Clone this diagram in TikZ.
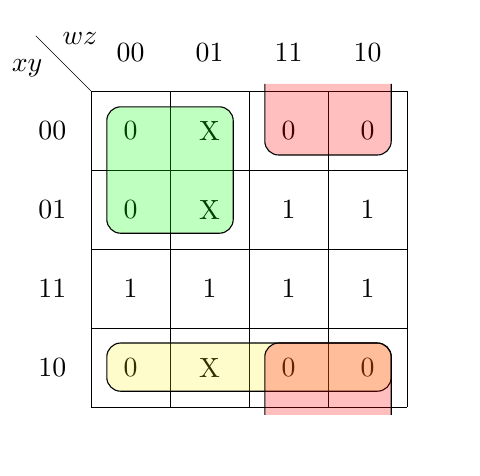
\documentclass[tikz,border=0pt]{standalone}
\usetikzlibrary{positioning}
\begin{document}
\begin{tikzpicture}[
    cell/.style={minimum size=1cm, inner sep=0pt},
    grp/.style={draw=black, thin, rounded corners=5pt, fill opacity=0.25},
  ]
  \useasboundingbox (-1.152,1.152) rectangle (4.924,-4.861);

  % map grid and corner label
  \draw[very thin] (0,0) grid (4,-4);
  \coordinate (corner) at (0,0);
  \coordinate (diag) at (-0.7,0.7);
  \draw[very thin] (corner) -- (diag);
  \node (wz) at (-0.14,0.67) {$wz$};
  \node (xy) at (-0.81,0.29) {$xy$};

  % column and row labels
  \foreach \lab [count=\i from 0] in {00,01,11,10} {
    \node[cell] (col\i) at (\i+0.5,0.49) {\lab};
    \node[cell] (row\i) at (-0.49,-\i-0.5) {\lab};
  }

  % cell values
  \foreach \a/\b/\c/\d [count=\r from 0] in {0/X/0/0, 0/X/1/1, 1/1/1/1, 0/X/0/0} {
    \node[cell] (c\r0) at (0.5,-\r-0.5) {\a};
    \node[cell] (c\r1) at (1.5,-\r-0.5) {\b};
    \node[cell] (c\r2) at (2.5,-\r-0.5) {\c};
    \node[cell] (c\r3) at (3.5,-\r-0.5) {\d};
  }

  % groups
  \filldraw[grp, fill=green] (0.2,-0.2) rectangle (1.8,-1.8);
  \filldraw[grp, fill=red] (2.2,0.09) -- (2.2,-0.81) -- (3.8,-0.81) -- (3.8,0.09);
  \filldraw[grp, fill=yellow, fill opacity=0.2] (0.2,-3.19) rectangle (3.8,-3.8);
  \filldraw[grp, fill=red] (2.2,-4.1) -- (2.2,-3.19) -- (3.8,-3.19) -- (3.8,-4.1);
\end{tikzpicture}
\end{document}
